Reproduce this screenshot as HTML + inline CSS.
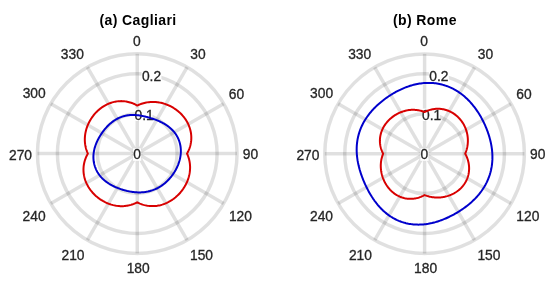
<!DOCTYPE html>
<html><head><meta charset="utf-8"><style>
html,body{margin:0;padding:0;background:#fff;}
svg{display:block;filter:blur(0.35px);}
.g circle,.g line{fill:none;stroke:#000;stroke-opacity:0.12;stroke-width:3.5;}
.t text{font-family:"Liberation Sans",Arial,sans-serif;font-size:13.8px;fill:#262626;stroke:#262626;stroke-width:0.3px;text-anchor:middle;}
.h{font-family:"Liberation Sans",Arial,sans-serif;font-size:14px;font-weight:bold;fill:#000;letter-spacing:0.4px;text-anchor:middle;}
</style></head><body>
<svg width="550" height="284" viewBox="0 0 550 284">
<rect width="550" height="284" fill="#fff"/>
<g class="g">
<circle cx="137.25" cy="153.6" r="39.92"/>
<circle cx="137.25" cy="153.6" r="79.84"/>
<circle cx="137.25" cy="153.6" r="99.80"/>
<line x1="137.25" y1="153.6" x2="137.25" y2="53.80"/>
<line x1="137.25" y1="153.6" x2="187.15" y2="67.17"/>
<line x1="137.25" y1="153.6" x2="223.68" y2="103.70"/>
<line x1="137.25" y1="153.6" x2="237.05" y2="153.60"/>
<line x1="137.25" y1="153.6" x2="223.68" y2="203.50"/>
<line x1="137.25" y1="153.6" x2="187.15" y2="240.03"/>
<line x1="137.25" y1="153.6" x2="137.25" y2="253.40"/>
<line x1="137.25" y1="153.6" x2="87.35" y2="240.03"/>
<line x1="137.25" y1="153.6" x2="50.82" y2="203.50"/>
<line x1="137.25" y1="153.6" x2="37.45" y2="153.60"/>
<line x1="137.25" y1="153.6" x2="50.82" y2="103.70"/>
<line x1="137.25" y1="153.6" x2="87.35" y2="67.17"/>
<circle cx="424.6" cy="153.7" r="39.92"/>
<circle cx="424.6" cy="153.7" r="79.84"/>
<circle cx="424.6" cy="153.7" r="99.80"/>
<line x1="424.6" y1="153.7" x2="424.60" y2="53.90"/>
<line x1="424.6" y1="153.7" x2="474.50" y2="67.27"/>
<line x1="424.6" y1="153.7" x2="511.03" y2="103.80"/>
<line x1="424.6" y1="153.7" x2="524.40" y2="153.70"/>
<line x1="424.6" y1="153.7" x2="511.03" y2="203.60"/>
<line x1="424.6" y1="153.7" x2="474.50" y2="240.13"/>
<line x1="424.6" y1="153.7" x2="424.60" y2="253.50"/>
<line x1="424.6" y1="153.7" x2="374.70" y2="240.13"/>
<line x1="424.6" y1="153.7" x2="338.17" y2="203.60"/>
<line x1="424.6" y1="153.7" x2="324.80" y2="153.70"/>
<line x1="424.6" y1="153.7" x2="338.17" y2="103.80"/>
<line x1="424.6" y1="153.7" x2="374.70" y2="67.27"/>
</g>
<g class="t">
<rect x="141.50" y="69.80" width="19.90" height="12.50" fill="#fff"/>
<rect x="135.20" y="108.60" width="17.30" height="12.40" fill="#fff"/>
<rect x="133.00" y="148.40" width="8.20" height="12.40" fill="#fff"/>
<text x="151.5" y="80.90">0.2</text>
<text x="144.2" y="120.10">0.1</text>
<text x="137.0" y="159.30">0</text>
<rect x="428.85" y="69.80" width="19.90" height="12.50" fill="#fff"/>
<rect x="422.55" y="108.60" width="17.30" height="12.40" fill="#fff"/>
<rect x="420.35" y="148.40" width="8.20" height="12.40" fill="#fff"/>
<text x="438.9" y="80.90">0.2</text>
<text x="431.6" y="120.10">0.1</text>
<text x="424.4" y="159.30">0</text>
</g>
<g fill="none" stroke-width="2" stroke-linejoin="round">
<path stroke="#d80000" d="M137.25,105.55 L138.10,105.14 L138.96,104.76 L139.83,104.40 L140.71,104.06 L141.61,103.74 L142.52,103.45 L143.44,103.19 L144.37,102.95 L145.31,102.73 L146.25,102.54 L147.21,102.38 L148.17,102.24 L149.13,102.13 L150.11,102.04 L151.08,101.98 L152.06,101.95 L153.04,101.94 L154.03,101.96 L155.01,102.01 L156.00,102.08 L156.99,102.18 L157.97,102.31 L158.96,102.46 L159.94,102.64 L160.92,102.84 L161.90,103.07 L162.87,103.32 L163.84,103.60 L164.80,103.90 L165.76,104.23 L166.71,104.58 L167.65,104.95 L168.58,105.35 L169.51,105.78 L170.42,106.22 L171.33,106.69 L172.22,107.19 L173.11,107.70 L173.98,108.24 L174.84,108.80 L175.69,109.38 L176.52,109.99 L177.34,110.61 L178.14,111.26 L178.92,111.93 L179.69,112.61 L180.44,113.32 L181.18,114.05 L181.89,114.80 L182.58,115.56 L183.25,116.35 L183.90,117.15 L184.53,117.97 L185.14,118.81 L185.72,119.66 L186.28,120.53 L186.81,121.42 L187.31,122.32 L187.79,123.23 L188.24,124.16 L188.66,125.10 L189.05,126.06 L189.42,127.02 L189.75,127.99 L190.05,128.98 L190.32,129.97 L190.56,130.97 L190.77,131.98 L190.94,132.99 L191.08,134.01 L191.19,135.03 L191.26,136.05 L191.30,137.07 L191.31,138.10 L191.28,139.12 L191.22,140.14 L191.12,141.16 L191.00,142.18 L190.83,143.18 L190.64,144.19 L190.41,145.18 L190.15,146.16 L189.86,147.14 L189.54,148.10 L189.19,149.06 L188.81,149.99 L188.40,150.92 L187.96,151.83 L187.50,152.72 L187.01,153.60 L187.41,154.48 L187.78,155.36 L188.12,156.27 L188.44,157.18 L188.73,158.10 L188.99,159.04 L189.23,159.98 L189.43,160.93 L189.61,161.89 L189.76,162.86 L189.89,163.83 L189.98,164.81 L190.05,165.79 L190.08,166.77 L190.09,167.76 L190.07,168.75 L190.02,169.73 L189.94,170.72 L189.83,171.71 L189.70,172.69 L189.54,173.67 L189.35,174.65 L189.13,175.62 L188.89,176.59 L188.62,177.55 L188.32,178.51 L188.00,179.46 L187.65,180.40 L187.28,181.33 L186.89,182.26 L186.47,183.17 L186.03,184.08 L185.56,184.97 L185.07,185.86 L184.56,186.73 L184.03,187.59 L183.48,188.44 L182.91,189.27 L182.31,190.09 L181.70,190.90 L181.07,191.69 L180.42,192.47 L179.75,193.23 L179.06,193.97 L178.35,194.70 L177.63,195.41 L176.89,196.11 L176.13,196.78 L175.36,197.44 L174.57,198.08 L173.77,198.69 L172.95,199.29 L172.11,199.87 L171.27,200.42 L170.41,200.95 L169.53,201.46 L168.65,201.95 L167.75,202.41 L166.84,202.85 L165.92,203.26 L164.99,203.65 L164.05,204.01 L163.10,204.34 L162.15,204.65 L161.18,204.93 L160.21,205.18 L159.24,205.40 L158.26,205.59 L157.27,205.76 L156.28,205.89 L155.29,205.99 L154.30,206.07 L153.30,206.11 L152.31,206.12 L151.32,206.11 L150.33,206.06 L149.34,205.98 L148.36,205.87 L147.38,205.73 L146.41,205.56 L145.45,205.36 L144.49,205.13 L143.54,204.87 L142.61,204.58 L141.68,204.26 L140.77,203.92 L139.87,203.55 L138.98,203.16 L138.11,202.74 L137.25,202.30 L136.39,202.74 L135.52,203.15 L134.63,203.54 L133.73,203.91 L132.82,204.25 L131.89,204.56 L130.96,204.85 L130.01,205.11 L129.06,205.34 L128.09,205.54 L127.12,205.72 L126.14,205.86 L125.16,205.98 L124.17,206.07 L123.18,206.13 L122.18,206.16 L121.18,206.16 L120.18,206.13 L119.18,206.07 L118.18,205.99 L117.18,205.87 L116.19,205.73 L115.19,205.56 L114.20,205.36 L113.22,205.14 L112.24,204.88 L111.26,204.61 L110.29,204.30 L109.33,203.97 L108.38,203.61 L107.43,203.23 L106.49,202.82 L105.56,202.39 L104.65,201.94 L103.74,201.46 L102.84,200.96 L101.96,200.43 L101.09,199.89 L100.23,199.32 L99.38,198.73 L98.55,198.11 L97.74,197.48 L96.94,196.83 L96.15,196.16 L95.39,195.46 L94.64,194.75 L93.91,194.02 L93.19,193.27 L92.50,192.50 L91.83,191.71 L91.18,190.91 L90.55,190.09 L89.94,189.25 L89.35,188.40 L88.79,187.53 L88.25,186.65 L87.74,185.75 L87.25,184.84 L86.79,183.92 L86.36,182.98 L85.96,182.03 L85.58,181.07 L85.23,180.10 L84.91,179.13 L84.63,178.14 L84.37,177.14 L84.14,176.14 L83.95,175.13 L83.79,174.12 L83.66,173.10 L83.57,172.09 L83.50,171.06 L83.47,170.04 L83.48,169.02 L83.52,168.00 L83.59,166.98 L83.69,165.97 L83.83,164.96 L84.00,163.95 L84.20,162.95 L84.44,161.96 L84.70,160.98 L85.00,160.02 L85.33,159.06 L85.69,158.11 L86.08,157.18 L86.49,156.26 L86.93,155.36 L87.40,154.47 L87.89,153.60 L87.50,152.73 L87.14,151.85 L86.80,150.96 L86.49,150.05 L86.20,149.13 L85.94,148.21 L85.70,147.27 L85.50,146.33 L85.32,145.37 L85.16,144.42 L85.04,143.45 L84.94,142.48 L84.87,141.51 L84.83,140.53 L84.82,139.55 L84.83,138.57 L84.87,137.59 L84.94,136.60 L85.04,135.62 L85.16,134.64 L85.31,133.66 L85.49,132.69 L85.69,131.71 L85.92,130.75 L86.17,129.78 L86.45,128.82 L86.75,127.87 L87.08,126.93 L87.43,125.99 L87.81,125.06 L88.21,124.13 L88.63,123.22 L89.08,122.32 L89.55,121.42 L90.04,120.54 L90.55,119.67 L91.08,118.81 L91.64,117.96 L92.21,117.13 L92.81,116.31 L93.42,115.50 L94.06,114.71 L94.71,113.93 L95.39,113.17 L96.08,112.43 L96.79,111.70 L97.52,110.99 L98.27,110.30 L99.03,109.63 L99.81,108.99 L100.61,108.36 L101.43,107.75 L102.26,107.16 L103.10,106.60 L103.96,106.06 L104.84,105.55 L105.73,105.06 L106.63,104.59 L107.54,104.16 L108.47,103.75 L109.40,103.36 L110.35,103.01 L111.31,102.68 L112.27,102.39 L113.25,102.12 L114.23,101.89 L115.21,101.68 L116.20,101.51 L117.20,101.37 L118.20,101.26 L119.20,101.18 L120.20,101.13 L121.20,101.12 L122.21,101.14 L123.21,101.19 L124.20,101.27 L125.20,101.38 L126.18,101.53 L127.16,101.71 L128.14,101.92 L129.10,102.16 L130.06,102.42 L131.00,102.72 L131.94,103.05 L132.86,103.40 L133.77,103.78 L134.66,104.19 L135.54,104.62 L136.40,105.07 Z"/>
<path stroke="#0000cc" d="M137.25,115.19 L137.92,115.26 L138.59,115.34 L139.25,115.43 L139.91,115.53 L140.57,115.63 L141.23,115.75 L141.88,115.87 L142.53,116.00 L143.18,116.13 L143.83,116.27 L144.48,116.41 L145.12,116.56 L145.76,116.72 L146.40,116.88 L147.04,117.05 L147.68,117.22 L148.32,117.40 L148.95,117.58 L149.59,117.76 L150.22,117.95 L150.86,118.15 L151.49,118.35 L152.13,118.55 L152.76,118.76 L153.40,118.98 L154.03,119.20 L154.66,119.42 L155.30,119.65 L155.93,119.89 L156.57,120.14 L157.20,120.39 L157.84,120.65 L158.48,120.92 L159.11,121.19 L159.75,121.47 L160.38,121.77 L161.01,122.07 L161.64,122.38 L162.27,122.70 L162.90,123.03 L163.53,123.37 L164.15,123.72 L164.77,124.09 L165.39,124.46 L166.00,124.85 L166.61,125.25 L167.21,125.66 L167.81,126.08 L168.40,126.52 L168.98,126.97 L169.56,127.44 L170.13,127.91 L170.69,128.40 L171.24,128.91 L171.77,129.43 L172.30,129.96 L172.82,130.50 L173.33,131.06 L173.82,131.63 L174.30,132.21 L174.76,132.81 L175.22,133.41 L175.65,134.03 L176.07,134.66 L176.48,135.31 L176.87,135.96 L177.24,136.62 L177.60,137.30 L177.94,137.98 L178.26,138.68 L178.56,139.38 L178.84,140.09 L179.11,140.80 L179.35,141.53 L179.58,142.26 L179.79,142.99 L179.98,143.73 L180.15,144.48 L180.30,145.23 L180.44,145.98 L180.55,146.74 L180.65,147.50 L180.72,148.26 L180.78,149.02 L180.82,149.79 L180.84,150.55 L180.84,151.32 L180.83,152.08 L180.80,152.84 L180.75,153.60 L180.68,154.36 L180.60,155.11 L180.50,155.87 L180.38,156.62 L180.25,157.36 L180.11,158.10 L179.95,158.84 L179.78,159.58 L179.59,160.31 L179.39,161.03 L179.17,161.75 L178.94,162.46 L178.70,163.17 L178.45,163.87 L178.19,164.57 L177.91,165.26 L177.63,165.94 L177.33,166.62 L177.02,167.29 L176.70,167.96 L176.37,168.62 L176.03,169.27 L175.69,169.92 L175.33,170.55 L174.96,171.19 L174.59,171.81 L174.20,172.43 L173.81,173.04 L173.41,173.64 L173.00,174.24 L172.58,174.83 L172.16,175.41 L171.72,175.99 L171.28,176.55 L170.83,177.11 L170.37,177.67 L169.91,178.21 L169.44,178.75 L168.96,179.28 L168.47,179.80 L167.97,180.31 L167.47,180.81 L166.96,181.31 L166.44,181.79 L165.92,182.27 L165.39,182.74 L164.85,183.20 L164.30,183.65 L163.75,184.09 L163.19,184.52 L162.63,184.94 L162.05,185.35 L161.47,185.75 L160.89,186.14 L160.30,186.51 L159.70,186.88 L159.10,187.24 L158.49,187.58 L157.87,187.92 L157.25,188.24 L156.62,188.55 L155.99,188.85 L155.36,189.14 L154.72,189.41 L154.07,189.68 L153.42,189.93 L152.77,190.17 L152.12,190.39 L151.46,190.61 L150.79,190.81 L150.13,191.00 L149.46,191.18 L148.79,191.34 L148.12,191.50 L147.44,191.64 L146.77,191.76 L146.09,191.88 L145.41,191.98 L144.73,192.08 L144.05,192.16 L143.37,192.23 L142.69,192.29 L142.01,192.33 L141.32,192.37 L140.64,192.39 L139.96,192.41 L139.28,192.41 L138.61,192.41 L137.93,192.39 L137.25,192.37 L136.57,192.33 L135.90,192.29 L135.23,192.23 L134.55,192.17 L133.88,192.10 L133.21,192.02 L132.54,191.94 L131.88,191.84 L131.21,191.74 L130.54,191.63 L129.88,191.51 L129.22,191.38 L128.56,191.25 L127.90,191.11 L127.24,190.97 L126.58,190.81 L125.92,190.65 L125.27,190.48 L124.61,190.31 L123.95,190.13 L123.30,189.94 L122.65,189.75 L121.99,189.55 L121.34,189.34 L120.69,189.12 L120.03,188.90 L119.38,188.67 L118.73,188.43 L118.08,188.18 L117.43,187.92 L116.78,187.66 L116.14,187.39 L115.49,187.11 L114.84,186.82 L114.20,186.52 L113.56,186.21 L112.92,185.89 L112.28,185.56 L111.64,185.22 L111.01,184.87 L110.38,184.51 L109.75,184.14 L109.13,183.76 L108.51,183.36 L107.89,182.96 L107.29,182.54 L106.68,182.10 L106.09,181.66 L105.50,181.20 L104.92,180.73 L104.34,180.25 L103.78,179.75 L103.22,179.24 L102.67,178.72 L102.14,178.19 L101.61,177.64 L101.10,177.08 L100.60,176.50 L100.11,175.92 L99.63,175.32 L99.17,174.71 L98.73,174.08 L98.29,173.45 L97.88,172.80 L97.48,172.15 L97.10,171.48 L96.73,170.80 L96.38,170.11 L96.05,169.41 L95.74,168.71 L95.45,167.99 L95.18,167.27 L94.92,166.54 L94.69,165.81 L94.47,165.06 L94.28,164.31 L94.10,163.56 L93.94,162.80 L93.81,162.04 L93.69,161.28 L93.60,160.51 L93.52,159.75 L93.47,158.98 L93.43,158.21 L93.41,157.44 L93.41,156.67 L93.43,155.90 L93.47,155.13 L93.53,154.36 L93.60,153.60 L93.70,152.84 L93.80,152.08 L93.93,151.33 L94.07,150.58 L94.23,149.84 L94.40,149.10 L94.58,148.36 L94.78,147.63 L95.00,146.91 L95.23,146.19 L95.46,145.48 L95.72,144.77 L95.98,144.07 L96.25,143.38 L96.54,142.69 L96.83,142.01 L97.13,141.34 L97.45,140.67 L97.77,140.01 L98.10,139.35 L98.44,138.70 L98.79,138.06 L99.14,137.43 L99.51,136.80 L99.88,136.17 L100.26,135.56 L100.64,134.95 L101.03,134.34 L101.43,133.74 L101.83,133.15 L102.24,132.57 L102.66,131.99 L103.08,131.41 L103.51,130.85 L103.95,130.28 L104.40,129.73 L104.85,129.18 L105.30,128.64 L105.77,128.10 L106.24,127.58 L106.71,127.05 L107.20,126.54 L107.69,126.03 L108.19,125.53 L108.69,125.04 L109.21,124.56 L109.73,124.08 L110.25,123.62 L110.79,123.16 L111.33,122.71 L111.88,122.28 L112.44,121.85 L113.01,121.43 L113.58,121.02 L114.16,120.63 L114.75,120.24 L115.35,119.87 L115.95,119.51 L116.56,119.16 L117.17,118.83 L117.80,118.50 L118.42,118.19 L119.06,117.90 L119.70,117.62 L120.35,117.35 L121.00,117.09 L121.65,116.85 L122.31,116.63 L122.98,116.42 L123.65,116.22 L124.32,116.04 L124.99,115.87 L125.67,115.72 L126.35,115.58 L127.03,115.46 L127.71,115.35 L128.40,115.26 L129.08,115.18 L129.77,115.11 L130.45,115.05 L131.14,115.01 L131.82,114.99 L132.51,114.97 L133.19,114.97 L133.87,114.98 L134.55,115.00 L135.23,115.03 L135.90,115.07 L136.58,115.13 Z"/>
<path stroke="#d80000" d="M424.60,112.08 L425.33,111.71 L426.08,111.35 L426.84,111.02 L427.61,110.71 L428.39,110.41 L429.18,110.14 L429.98,109.89 L430.79,109.67 L431.61,109.47 L432.43,109.29 L433.26,109.14 L434.10,109.01 L434.94,108.91 L435.79,108.83 L436.64,108.78 L437.49,108.75 L438.34,108.75 L439.19,108.78 L440.05,108.84 L440.90,108.92 L441.75,109.02 L442.60,109.16 L443.44,109.31 L444.28,109.50 L445.11,109.71 L445.94,109.95 L446.76,110.21 L447.57,110.49 L448.38,110.80 L449.17,111.14 L449.96,111.49 L450.73,111.88 L451.50,112.28 L452.25,112.71 L452.99,113.15 L453.72,113.62 L454.43,114.11 L455.13,114.63 L455.81,115.16 L456.48,115.71 L457.13,116.27 L457.77,116.86 L458.39,117.46 L459.00,118.08 L459.58,118.72 L460.15,119.37 L460.70,120.04 L461.23,120.72 L461.74,121.41 L462.23,122.12 L462.71,122.84 L463.16,123.57 L463.60,124.31 L464.01,125.07 L464.40,125.83 L464.77,126.60 L465.13,127.38 L465.46,128.17 L465.77,128.96 L466.06,129.77 L466.32,130.57 L466.57,131.38 L466.79,132.20 L467.00,133.02 L467.18,133.84 L467.34,134.67 L467.48,135.50 L467.60,136.33 L467.69,137.16 L467.77,137.99 L467.83,138.82 L467.86,139.64 L467.87,140.47 L467.87,141.29 L467.84,142.11 L467.79,142.93 L467.73,143.74 L467.64,144.55 L467.54,145.35 L467.41,146.15 L467.27,146.94 L467.11,147.73 L466.93,148.50 L466.74,149.27 L466.53,150.03 L466.30,150.78 L466.05,151.53 L465.79,152.26 L465.52,152.99 L465.23,153.70 L465.61,154.42 L465.97,155.14 L466.32,155.89 L466.65,156.64 L466.97,157.41 L467.26,158.18 L467.54,158.97 L467.80,159.77 L468.03,160.58 L468.25,161.40 L468.44,162.22 L468.61,163.05 L468.75,163.89 L468.87,164.74 L468.97,165.59 L469.04,166.44 L469.09,167.30 L469.11,168.16 L469.10,169.02 L469.07,169.89 L469.01,170.75 L468.93,171.61 L468.82,172.47 L468.68,173.32 L468.51,174.18 L468.32,175.02 L468.10,175.86 L467.85,176.70 L467.58,177.52 L467.28,178.34 L466.96,179.15 L466.61,179.95 L466.23,180.74 L465.83,181.51 L465.41,182.27 L464.96,183.02 L464.49,183.76 L464.00,184.48 L463.48,185.18 L462.94,185.87 L462.38,186.54 L461.81,187.20 L461.21,187.84 L460.59,188.46 L459.96,189.06 L459.31,189.64 L458.64,190.20 L457.95,190.74 L457.26,191.27 L456.54,191.77 L455.82,192.25 L455.08,192.71 L454.33,193.15 L453.57,193.57 L452.80,193.97 L452.02,194.34 L451.23,194.70 L450.43,195.03 L449.62,195.35 L448.81,195.64 L448.00,195.91 L447.18,196.16 L446.35,196.39 L445.52,196.59 L444.69,196.78 L443.85,196.94 L443.02,197.09 L442.18,197.21 L441.34,197.32 L440.51,197.40 L439.67,197.46 L438.83,197.51 L438.00,197.53 L437.17,197.53 L436.34,197.52 L435.52,197.48 L434.69,197.43 L433.88,197.35 L433.07,197.26 L432.26,197.15 L431.46,197.02 L430.67,196.88 L429.88,196.71 L429.10,196.53 L428.33,196.33 L427.57,196.12 L426.81,195.88 L426.06,195.63 L425.33,195.37 L424.60,195.09 L423.87,195.48 L423.13,195.85 L422.37,196.20 L421.60,196.54 L420.82,196.86 L420.03,197.15 L419.23,197.43 L418.42,197.68 L417.60,197.91 L416.77,198.12 L415.93,198.30 L415.09,198.46 L414.24,198.59 L413.38,198.69 L412.52,198.77 L411.66,198.82 L410.80,198.85 L409.93,198.84 L409.07,198.81 L408.20,198.75 L407.34,198.67 L406.48,198.55 L405.62,198.41 L404.77,198.24 L403.93,198.04 L403.09,197.81 L402.25,197.56 L401.43,197.28 L400.62,196.97 L399.81,196.64 L399.02,196.28 L398.24,195.89 L397.47,195.48 L396.71,195.05 L395.96,194.60 L395.23,194.12 L394.52,193.62 L393.82,193.10 L393.14,192.56 L392.47,191.99 L391.81,191.41 L391.18,190.82 L390.56,190.20 L389.96,189.57 L389.38,188.92 L388.81,188.26 L388.27,187.58 L387.74,186.89 L387.23,186.18 L386.74,185.47 L386.27,184.74 L385.82,184.00 L385.38,183.25 L384.97,182.50 L384.57,181.73 L384.19,180.95 L383.84,180.17 L383.50,179.38 L383.18,178.59 L382.88,177.79 L382.60,176.98 L382.34,176.17 L382.10,175.35 L381.88,174.53 L381.68,173.71 L381.50,172.89 L381.34,172.06 L381.20,171.23 L381.08,170.41 L380.98,169.58 L380.90,168.75 L380.84,167.92 L380.80,167.09 L380.78,166.27 L380.78,165.44 L380.80,164.62 L380.84,163.80 L380.90,162.99 L380.98,162.18 L381.08,161.37 L381.20,160.57 L381.34,159.78 L381.50,158.99 L381.69,158.21 L381.89,157.44 L382.11,156.67 L382.34,155.91 L382.60,155.17 L382.88,154.43 L383.17,153.70 L382.80,152.97 L382.45,152.23 L382.11,151.47 L381.80,150.71 L381.51,149.93 L381.24,149.14 L380.99,148.35 L380.77,147.54 L380.57,146.73 L380.40,145.91 L380.25,145.08 L380.13,144.25 L380.03,143.41 L379.96,142.57 L379.92,141.73 L379.90,140.88 L379.91,140.04 L379.95,139.19 L380.01,138.35 L380.10,137.50 L380.22,136.66 L380.36,135.83 L380.53,134.99 L380.73,134.17 L380.95,133.35 L381.19,132.53 L381.47,131.72 L381.76,130.92 L382.08,130.13 L382.42,129.35 L382.79,128.58 L383.18,127.82 L383.59,127.06 L384.02,126.33 L384.47,125.60 L384.94,124.88 L385.43,124.18 L385.94,123.49 L386.46,122.82 L387.01,122.16 L387.57,121.51 L388.15,120.88 L388.74,120.26 L389.35,119.66 L389.97,119.07 L390.61,118.50 L391.26,117.94 L391.92,117.40 L392.59,116.88 L393.28,116.37 L393.98,115.89 L394.69,115.41 L395.41,114.96 L396.14,114.52 L396.87,114.10 L397.62,113.70 L398.38,113.32 L399.14,112.95 L399.91,112.61 L400.69,112.28 L401.47,111.97 L402.26,111.69 L403.06,111.42 L403.86,111.17 L404.66,110.94 L405.47,110.73 L406.28,110.54 L407.10,110.38 L407.91,110.23 L408.73,110.11 L409.55,110.00 L410.38,109.92 L411.20,109.86 L412.02,109.82 L412.84,109.80 L413.66,109.81 L414.47,109.83 L415.29,109.88 L416.10,109.95 L416.90,110.04 L417.70,110.15 L418.50,110.28 L419.29,110.44 L420.07,110.61 L420.85,110.81 L421.62,111.02 L422.38,111.26 L423.13,111.52 L423.87,111.79 Z"/>
<path stroke="#0000cc" d="M424.60,83.02 L425.83,82.95 L427.07,82.90 L428.31,82.88 L429.55,82.89 L430.79,82.92 L432.03,82.99 L433.27,83.08 L434.51,83.20 L435.74,83.35 L436.97,83.53 L438.20,83.73 L439.42,83.97 L440.64,84.23 L441.85,84.53 L443.05,84.85 L444.24,85.20 L445.43,85.58 L446.60,85.98 L447.77,86.41 L448.92,86.87 L450.07,87.36 L451.20,87.87 L452.31,88.41 L453.42,88.97 L454.51,89.56 L455.59,90.17 L456.65,90.80 L457.70,91.45 L458.73,92.13 L459.74,92.83 L460.74,93.55 L461.73,94.28 L462.69,95.04 L463.64,95.81 L464.58,96.61 L465.49,97.41 L466.39,98.24 L467.28,99.08 L468.14,99.93 L468.99,100.80 L469.82,101.68 L470.64,102.57 L471.43,103.48 L472.21,104.39 L472.98,105.32 L473.73,106.26 L474.46,107.20 L475.18,108.16 L475.88,109.12 L476.57,110.09 L477.24,111.07 L477.89,112.06 L478.54,113.06 L479.16,114.06 L479.78,115.07 L480.37,116.08 L480.96,117.10 L481.53,118.13 L482.09,119.16 L482.63,120.20 L483.16,121.24 L483.68,122.29 L484.19,123.34 L484.68,124.40 L485.16,125.46 L485.62,126.53 L486.07,127.61 L486.51,128.69 L486.94,129.77 L487.35,130.86 L487.75,131.96 L488.13,133.06 L488.50,134.16 L488.86,135.27 L489.20,136.39 L489.53,137.51 L489.84,138.64 L490.14,139.77 L490.42,140.91 L490.68,142.05 L490.93,143.19 L491.16,144.35 L491.37,145.50 L491.56,146.66 L491.74,147.83 L491.89,148.99 L492.03,150.17 L492.15,151.34 L492.24,152.52 L492.32,153.70 L492.37,154.88 L492.40,156.07 L492.41,157.25 L492.40,158.44 L492.37,159.63 L492.31,160.82 L492.23,162.00 L492.12,163.19 L491.99,164.37 L491.84,165.56 L491.66,166.73 L491.45,167.91 L491.23,169.08 L490.98,170.25 L490.70,171.41 L490.40,172.57 L490.07,173.72 L489.72,174.86 L489.34,175.99 L488.94,177.12 L488.52,178.24 L488.07,179.34 L487.60,180.44 L487.11,181.53 L486.59,182.61 L486.05,183.67 L485.49,184.73 L484.91,185.77 L484.31,186.80 L483.68,187.81 L483.04,188.81 L482.38,189.80 L481.70,190.78 L481.00,191.74 L480.28,192.69 L479.55,193.62 L478.80,194.54 L478.03,195.44 L477.25,196.33 L476.45,197.21 L475.64,198.07 L474.82,198.92 L473.98,199.75 L473.13,200.57 L472.27,201.37 L471.40,202.17 L470.52,202.94 L469.63,203.71 L468.72,204.46 L467.81,205.20 L466.89,205.92 L465.96,206.64 L465.02,207.34 L464.07,208.03 L463.11,208.70 L462.15,209.37 L461.18,210.02 L460.20,210.67 L459.21,211.30 L458.21,211.92 L457.21,212.53 L456.20,213.12 L455.18,213.71 L454.15,214.29 L453.12,214.85 L452.07,215.41 L451.02,215.95 L449.96,216.48 L448.90,217.00 L447.82,217.50 L446.74,218.00 L445.65,218.48 L444.55,218.95 L443.44,219.40 L442.32,219.84 L441.20,220.26 L440.06,220.67 L438.92,221.07 L437.77,221.44 L436.61,221.80 L435.44,222.15 L434.26,222.47 L433.08,222.77 L431.89,223.06 L430.69,223.32 L429.49,223.56 L428.27,223.78 L427.05,223.97 L425.83,224.15 L424.60,224.29 L423.37,224.41 L422.13,224.51 L420.89,224.58 L419.64,224.62 L418.39,224.64 L417.15,224.62 L415.90,224.58 L414.65,224.51 L413.40,224.41 L412.16,224.27 L410.91,224.11 L409.67,223.92 L408.44,223.70 L407.21,223.44 L405.99,223.16 L404.77,222.84 L403.57,222.49 L402.37,222.12 L401.18,221.71 L400.01,221.27 L398.84,220.81 L397.69,220.31 L396.55,219.79 L395.42,219.23 L394.31,218.65 L393.22,218.05 L392.14,217.41 L391.07,216.75 L390.03,216.07 L389.00,215.36 L387.99,214.63 L387.00,213.88 L386.02,213.10 L385.07,212.31 L384.13,211.49 L383.21,210.66 L382.32,209.81 L381.44,208.94 L380.58,208.06 L379.74,207.16 L378.92,206.25 L378.11,205.33 L377.33,204.39 L376.56,203.44 L375.82,202.48 L375.09,201.51 L374.37,200.54 L373.68,199.55 L373.00,198.56 L372.34,197.55 L371.69,196.55 L371.06,195.53 L370.44,194.51 L369.84,193.49 L369.25,192.45 L368.68,191.42 L368.12,190.38 L367.57,189.34 L367.04,188.29 L366.51,187.24 L366.00,186.18 L365.50,185.12 L365.02,184.06 L364.54,182.99 L364.08,181.92 L363.63,180.85 L363.19,179.77 L362.76,178.69 L362.34,177.60 L361.93,176.51 L361.54,175.41 L361.16,174.31 L360.79,173.21 L360.43,172.10 L360.09,170.99 L359.75,169.87 L359.44,168.74 L359.13,167.62 L358.85,166.48 L358.57,165.34 L358.32,164.20 L358.07,163.05 L357.85,161.90 L357.64,160.74 L357.46,159.57 L357.29,158.41 L357.14,157.24 L357.01,156.06 L356.90,154.88 L356.81,153.70 L356.74,152.52 L356.69,151.33 L356.67,150.14 L356.67,148.95 L356.70,147.76 L356.75,146.57 L356.82,145.38 L356.92,144.19 L357.04,143.00 L357.19,141.81 L357.36,140.63 L357.56,139.45 L357.78,138.27 L358.03,137.10 L358.31,135.94 L358.61,134.78 L358.93,133.62 L359.28,132.48 L359.66,131.34 L360.06,130.21 L360.49,129.09 L360.94,127.98 L361.41,126.88 L361.91,125.79 L362.43,124.71 L362.97,123.64 L363.53,122.58 L364.12,121.54 L364.72,120.51 L365.35,119.49 L365.99,118.48 L366.66,117.49 L367.34,116.51 L368.04,115.55 L368.75,114.59 L369.48,113.66 L370.23,112.73 L371.00,111.82 L371.77,110.92 L372.57,110.04 L373.37,109.17 L374.19,108.31 L375.02,107.47 L375.86,106.63 L376.72,105.82 L377.58,105.01 L378.46,104.22 L379.34,103.44 L380.24,102.67 L381.15,101.91 L382.06,101.17 L382.99,100.44 L383.92,99.72 L384.87,99.01 L385.82,98.31 L386.78,97.63 L387.75,96.96 L388.73,96.29 L389.72,95.64 L390.71,95.01 L391.72,94.38 L392.73,93.76 L393.75,93.16 L394.79,92.57 L395.83,91.99 L396.88,91.43 L397.93,90.88 L399.00,90.34 L400.08,89.82 L401.16,89.31 L402.26,88.82 L403.36,88.34 L404.48,87.87 L405.60,87.43 L406.73,87.00 L407.87,86.59 L409.01,86.19 L410.17,85.82 L411.34,85.46 L412.51,85.13 L413.69,84.82 L414.88,84.52 L416.07,84.25 L417.27,84.00 L418.48,83.78 L419.70,83.58 L420.92,83.40 L422.14,83.25 L423.37,83.12 Z"/>
</g>
<g class="t">
<text x="136.8" y="45.90">0</text>
<text x="198.0" y="59.40">30</text>
<text x="236.5" y="98.50">60</text>
<text x="250.4" y="158.90">90</text>
<text x="240.4" y="220.90">120</text>
<text x="201.5" y="259.90">150</text>
<text x="138.2" y="273.20">180</text>
<text x="73.0" y="259.90">210</text>
<text x="34.1" y="220.90">240</text>
<text x="20.5" y="159.70">270</text>
<text x="34.2" y="97.90">300</text>
<text x="72.3" y="59.40">330</text>
<text x="424.2" y="45.90">0</text>
<text x="485.4" y="59.40">30</text>
<text x="523.9" y="98.50">60</text>
<text x="537.8" y="158.90">90</text>
<text x="527.8" y="220.90">120</text>
<text x="488.9" y="259.90">150</text>
<text x="425.6" y="273.20">180</text>
<text x="360.4" y="259.90">210</text>
<text x="321.5" y="220.90">240</text>
<text x="307.9" y="159.70">270</text>
<text x="321.6" y="97.90">300</text>
<text x="359.7" y="59.40">330</text>
</g>
<text class="h" x="138.0" y="25.4">(a) Cagliari</text>
<text class="h" x="424.9" y="25.4">(b) Rome</text>
</svg>
</body></html>
